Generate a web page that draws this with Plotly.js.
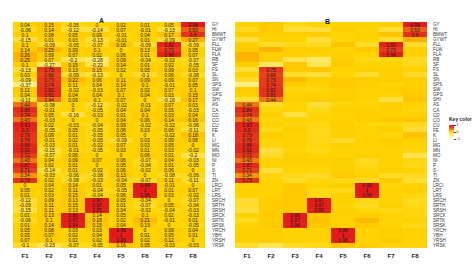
<!DOCTYPE html>
<html>
<head>
<meta charset="utf-8">
<script src="https://cdn.plot.ly/plotly-3.0.1.min.js"></script>
<style>
  html, body { margin: 0; padding: 0; background: #fff; }
  #chart { width: 474px; height: 276px; }
</style>
</head>
<body>
<div id="chart"></div>
<script>
// Traits (rows) and factors (columns)
const traits = ['GY','HI','BMWT','GYWT','FLL','FLW','FLA','RB','SF','FS','SL','SN','SPS','SW','GPS','SHI',
  'AS','CA','CD','CO','CU','FE','K','LI','MG','MN','MO','NI','P','S','TI','ZN',
  'LRCI','LRT','LRS','SRCH','SRTH','SRSH','SRCK','SRTK','SRSK','YRCH','YBH','YRSH','YRSK'];
const factors = ['F1','F2','F3','F4','F5','F6','F7','F8'];

// Factor loadings, one array per factor, in trait order
const F1 = [0.04,-0.06,0.1,-0.15,0.1,0.14,0.26,0.25,0.1,-0.13,0.03,-0.09,-0.37,0.12,0.04,-0.11,
  0.44,0.86,0.74,0.43,0.93,0.9,0.79,0.76,0.88,0.91,0.72,0.43,0.87,0.71,0.34,0.79,
  0,0.05,0.01,-0.12,-0.09,-0.15,0.01,-0.06,0.01,0.05,0.05,0.07,-0.1];
const F2 = [0.15,0.14,0.08,0.01,-0.09,0.25,0.09,0.07,-0.27,0.75,0.66,0.73,0.74,0.82,0.81,0.44,
  -0.08,-0.01,0.05,-0.03,0.02,-0.05,0.09,-0.01,-0.03,-0.15,-0.07,0.04,0.02,-0.14,-0.03,0.02,
  0.04,0.02,0.03,0.09,0.11,0.11,0.13,0.1,0.14,0.08,0.07,0.1,-0.23];
const F3 = [-0.05,-0.12,0.05,0.03,-0.05,0.09,0.07,-0.2,0.15,0.13,-0.09,0.22,0.11,-0.02,0.04,0.09,
  0,0,-0.16,0,-0.03,0.05,0.01,0.02,0.01,-0.01,0.06,0.09,0.01,0.01,-0.06,-0.08,
  0.14,0.11,0.15,0.13,0.15,0.13,0.98,0.97,0.94,0.03,0.02,0.02,-0.07];
const F4 = [0,-0.14,0.09,-0.13,-0.07,0.1,0.02,-0.28,-0.22,0.15,-0.13,0.06,0.04,-0.03,0.04,0.1,
  -0.12,-0.05,-0.03,0,-0.04,-0.05,-0.05,-0.05,-0.02,-0.05,0,0.07,0,-0.02,-0.08,-0.03,
  0.01,-0.04,-0.04,0.97,0.97,0.95,0.14,0.18,0.15,0.03,0.04,0.02,-0.05];
const F5 = [0.02,0.07,-0.01,-0.01,0.16,0,0.06,0.09,0.14,0.02,0,0.11,0.14,0.07,0.1,0.07,
  -0.02,0.04,0.01,0.04,0.09,0.06,0.05,-0.09,0.07,0.03,0,0.06,0.05,0.06,0.13,-0.04,
  0.05,-0.05,0.06,0.05,0.01,0.04,0.05,0.02,0.04,0.98,1,0.96,0.16];
const F6 = [0.01,-0.01,0.04,0.01,-0.09,0.13,0.01,-0.04,0.01,0.05,-0.1,0.09,0.1,0.02,0.04,0,
  -0.01,0.04,0.1,0.06,-0.02,0.03,0,0.03,0.03,0.01,0.06,-0.07,-0.04,-0.02,0,-0.07,
  0.99,1,0.96,-0.04,-0.07,-0.02,0.1,0.21,0.13,0,0.01,0.02,0.05];
const F7 = [0.05,-0.13,0.17,-0.09,0.92,0.73,0.96,-0.02,0.02,0.09,0.06,0.09,-0.01,0.07,0.03,-0.16,
  0.07,0.05,0.03,0.14,-0.02,0.06,-0.02,0.09,0.05,0.03,0.01,0.04,0.01,0.06,-0.08,0.11,
  -0.01,0.01,0.03,0,0.05,-0.04,0.02,-0.01,0,0.09,0.05,0.12,-0.03];
const F8 = [0.98,0.53,0.8,0.27,-0.09,0.05,0.07,-0.07,-0.05,0.03,-0.08,0.07,0.05,0.1,0.15,0.17,
  0.03,-0.03,0.04,0.16,-0.06,-0.11,0.18,0.08,0,-0.02,-0.2,-0.03,-0.05,0,-0.06,-0.11,
  0,0.07,-0.02,-0.07,-0.04,-0.03,-0.03,0.01,-0.05,0.04,0.01,0,-0.03];

const columns = [F1, F2, F3, F4, F5, F6, F7, F8];
const z = traits.map((_, r) => columns.map(col => col[r]));
const textAll = z.map(row => row.map(v => String(v)));
const textHigh = z.map(row => row.map(v => (v > 0.3 ? String(v) : '')));

const W = 474, H = 276;
const px = v => v / W;
const py = v => 1 - v / H;

const heat = {
  type: 'heatmap', x: factors, y: traits, z: z,
  coloraxis: 'coloraxis', hoverinfo: 'skip',
  texttemplate: '%{text}',
  textfont: { family: 'Liberation Sans, Arial, sans-serif', size: 5, color: '#1a1a1a' }
};

const traces = [
  Object.assign({}, heat, { text: textAll, xaxis: 'x', yaxis: 'y' }),
  Object.assign({}, heat, { text: textHigh, xaxis: 'x2', yaxis: 'y2' })
];

const xCommon = {
  type: 'category', showgrid: false, zeroline: false, showline: false, ticks: '',
  tickfont: { size: 6, weight: 'bold', color: '#222' }, ticklabelstandoff: 3
};
const yCommon = {
  type: 'category', autorange: 'reversed', showgrid: false, zeroline: false, showline: false,
  ticks: '', side: 'right', tickmode: 'array', tickvals: traits, ticktext: traits,
  tickfont: { size: 4.6, color: '#333' }
};

const layout = {
  width: W, height: H,
  margin: { l: 0, r: 0, t: 0, b: 0 },
  paper_bgcolor: '#fff', plot_bgcolor: '#fff',
  font: { family: 'Liberation Sans, Arial, sans-serif', color: '#222' },
  showlegend: false,
  xaxis: Object.assign({}, xCommon, { domain: [px(13), px(205)], anchor: 'y' }),
  yaxis: Object.assign({}, yCommon, { domain: [py(248), py(22)], anchor: 'x', ticklabelstandoff: 6 }),
  xaxis2: Object.assign({}, xCommon, { domain: [px(235), px(427)], anchor: 'y2' }),
  yaxis2: Object.assign({}, yCommon, { domain: [py(248), py(22)], anchor: 'x2', ticklabelstandoff: 5 }),
  coloraxis: {
    cmin: -1, cmax: 1,
    colorscale: [
      [0.0, '#FFFFE0'], [0.3, '#FFF08A'], [0.45, '#FFDC30'], [0.5, '#FFD400'],
      [0.57, '#FFCA00'], [0.63, '#FCB200'], [0.7, '#F47E10'], [0.8, '#EC4A1C'], [1.0, '#E21A1A']
    ],
    colorbar: {
      x: px(449), xanchor: 'left', y: py(132), yanchor: 'middle',
      len: 14, lenmode: 'pixels', thickness: 5, thicknessmode: 'pixels',
      outlinewidth: 0, xpad: 0, ypad: 0,
      tickvals: [-1, 0, 1], ticktext: ['-1', '0', '1'],
      ticks: 'outside', ticklen: 2, tickfont: { size: 4, color: '#333' }
    }
  },
  annotations: [
    { text: 'A', x: px(97), y: py(15), xref: 'paper', yref: 'paper', showarrow: false,
      font: { size: 7, weight: 'bold' } },
    { text: 'B', x: px(332), y: py(16), xref: 'paper', yref: 'paper', showarrow: false,
      font: { size: 7, weight: 'bold' } },
    { text: 'Key color', x: px(448), xanchor: 'left', y: py(119), xref: 'paper', yref: 'paper',
      showarrow: false, borderpad: 0, font: { size: 5, weight: 'bold' } }
  ]
};

Plotly.newPlot('chart', traces, layout, { staticPlot: true, displayModeBar: false });
</script>
</body>
</html>
